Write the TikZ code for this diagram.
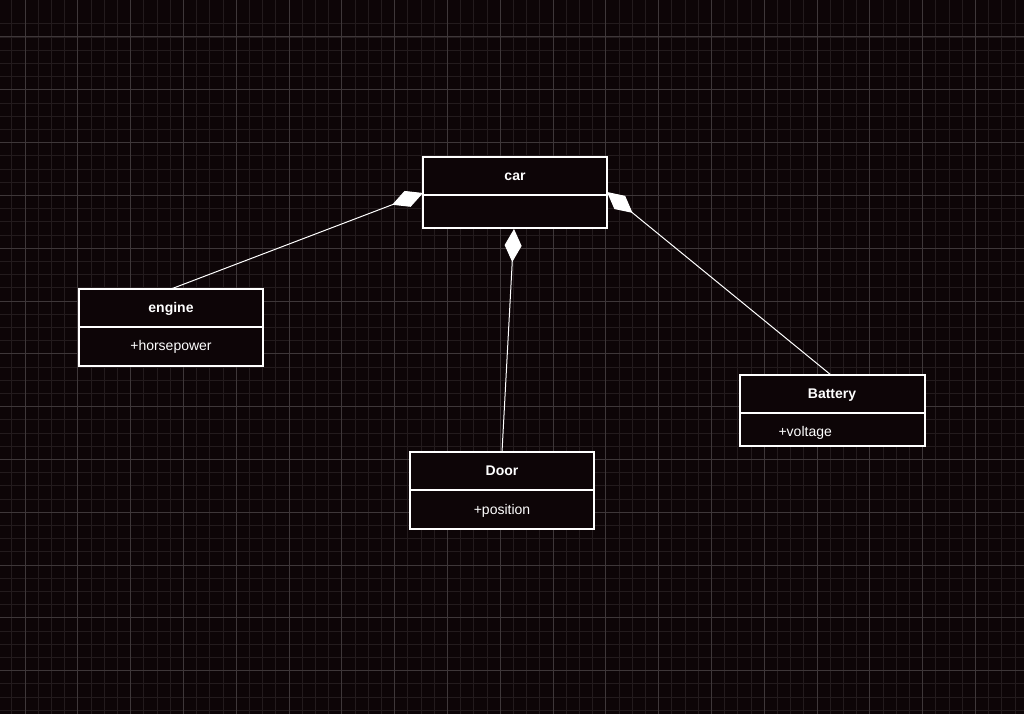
\documentclass[tikz,border=0pt]{standalone}
\usepackage{fontspec}
\setmainfont{Liberation Sans}
\usetikzlibrary{arrows.meta}
\definecolor{bg}{HTML}{0D0507}
\definecolor{gmin}{HTML}{231B1D}
\definecolor{gmaj}{HTML}{3E3739}
\begin{document}
\begin{tikzpicture}[x=1pt,y=-1pt,
  hdr/.style={font=\bfseries\fontsize{14}{16}\selectfont,text=white},
  attr/.style={font=\fontsize{14}{16}\selectfont,text=white},
  box/.style={draw=white,line width=1.3pt,fill=bg},
  comp/.style={draw=white,line width=1pt,-{Diamond[length=33pt,width=17pt,fill=white]}}]
\fill[bg] (0,0) rectangle (1024,714);
\useasboundingbox (0,0) rectangle (1024,714);
\foreach \i in {-1,...,78} {
  \pgfmathsetmacro\xx{25+13.2*\i}
  \draw[gmin,line width=0.8pt] (\xx,0) -- (\xx,714);
  \pgfmathsetmacro\yy{37+13.2*\i}
  \draw[gmin,line width=0.8pt] (0,\yy) -- (1024,\yy);
}
\foreach \i in {-1,...,20} {
  \pgfmathsetmacro\xx{25+52.8*\i}
  \draw[gmaj,line width=1pt] (\xx,0) -- (\xx,714);
  \pgfmathsetmacro\yy{37+52.8*\i}
  \draw[gmaj,line width=1pt] (0,\yy) -- (1024,\yy);
}
% car
\draw[box] (423,157) rectangle (607,228);
\draw[white,line width=1.3pt] (423,195) -- (607,195);
\node[hdr] (car) at (515,177) {car};
\coordinate (carL) at (423,193);
\coordinate (carR) at (607,192);
\coordinate (carB) at (514,229);
% engine
\draw[box] (79,289) rectangle (263,366);
\draw[white,line width=1.3pt] (79,327) -- (263,327);
\node[hdr] (engine) at (171,309) {engine};
\node[attr] (hp) at (171,347) {+horsepower};
\coordinate (engT) at (171,289);
% door
\draw[box] (410,452) rectangle (594,529);
\draw[white,line width=1.3pt] (410,490) -- (594,490);
\node[hdr] (door) at (502,471) {Door};
\node[attr] (pos) at (502,511) {+position};
\coordinate (doorT) at (502,452);
% battery
\draw[box] (740,375) rectangle (925,446);
\draw[white,line width=1.3pt] (740,413) -- (925,413);
\node[hdr] (bat) at (832,395) {Battery};
\node[attr,anchor=west] (volt) at (775,433) {+voltage};
\coordinate (batT) at (831,375);
% connectors
\draw[comp] (engT) -- (carL);
\draw[comp] (doorT) -- (carB);
\draw[comp] (batT) -- (carR);
\end{tikzpicture}
\end{document}
